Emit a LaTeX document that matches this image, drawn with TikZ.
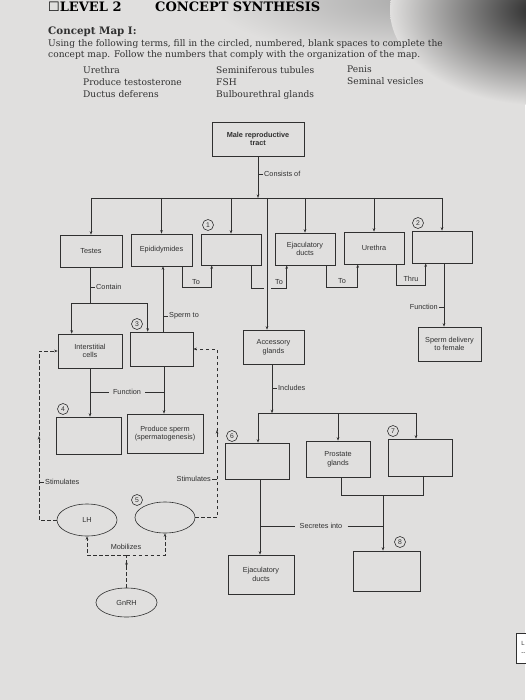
\documentclass[tikz,border=0pt]{standalone}
\usepackage{fontspec}
\setmainfont{DejaVu Serif}
\newfontfamily\diag{Liberation Sans}
\newfontfamily\symf{DejaVu Sans}
\usetikzlibrary{arrows.meta,shapes.geometric,calc}
\definecolor{paper}{RGB}{224,223,222}
\definecolor{ink}{RGB}{48,48,48}
\tikzset{
  box/.style={draw=ink,line width=0.6pt,align=center,font=\diag\fontsize{7.3}{8.6}\selectfont,inner sep=1pt},
  sz/.style 2 args={minimum width=#1pt,minimum height=#2pt},
  oval/.style={box,ellipse},
  lbl/.style={font=\diag\fontsize{7.3}{8.6}\selectfont,inner sep=1pt},
  num/.style={circle,draw=ink,line width=0.6pt,minimum size=11pt,inner sep=0pt,font=\diag\fontsize{6.8}{7}\selectfont},
  con/.style={draw=ink,line width=0.6pt},
  arr/.style={con,-{Stealth[length=3.6pt,width=2.6pt]}},
  dsh/.style={con,dash pattern=on 3.5pt off 2.5pt},
  body/.style={anchor=base west,inner sep=0pt,font=\fontsize{9.1}{10}\selectfont},
}
\begin{document}
\begin{tikzpicture}[x=1pt,y=-1pt,every node/.style={text=ink}]
\useasboundingbox (0,0) rectangle (525,700);
\fill[paper] (0,0) rectangle (525,700);
\shade[inner color=black!35, outer color=paper] (430,0) ellipse (220pt and 60pt);
\shade[inner color=black!85, outer color=paper] (540,10) ellipse (150pt and 95pt);

% ---------- header text ----------
\node[anchor=base west,inner sep=0pt,font=\bfseries\fontsize{13}{13}\selectfont,text=black] (head1) at (48,12) {{\symf\mdseries ☐}LEVEL 2};
\node[anchor=base west,inner sep=0pt,font=\bfseries\fontsize{13}{13}\selectfont,text=black] (head2) at (155,12) {CONCEPT SYNTHESIS};
\node[anchor=base west,inner sep=0pt,font=\bfseries\fontsize{10.3}{11}\selectfont] (cm) at (48,35) {Concept Map I:};
\node[body] (l1) at (48,47) {Using the following terms, fill in the circled, numbered, blank spaces to complete the};
\node[body] (l2) at (48,58) {concept map. Follow the numbers that comply with the organization of the map.};
\node[body] (t1) at (83,74) {Urethra};
\node[body] (t2) at (83,86) {Produce testosterone};
\node[body] (t3) at (83,98) {Ductus deferens};
\node[body] (t4) at (216,74) {Seminiferous tubules};
\node[body] (t5) at (216,86) {FSH};
\node[body] (t6) at (216,98) {Bulbourethral glands};
\node[body] (t7) at (347,73) {Penis};
\node[body] (t8) at (347,85) {Seminal vesicles};

% ---------- boxes ----------
\node[box,sz={92}{34},font=\diag\bfseries\fontsize{7.3}{8.4}\selectfont] (male) at (258,139) {Male reproductive\\tract};
\node[box,sz={62}{32}] (testes) at (91,251) {Testes};
\node[box,sz={61}{32}] (epid) at (161.5,250) {Epididymides};
\node[box,sz={60}{31}] (b1) at (231,249.5) {};
\node[box,sz={60}{32}] (ejac) at (305,249) {Ejaculatory\\ducts};
\node[box,sz={60}{32}] (ureth) at (374,248) {Urethra};
\node[box,sz={60}{32}] (b2) at (442,247) {};
\node[box,sz={63}{34}] (sperm) at (449.5,344) {Sperm delivery\\to female};
\node[box,sz={64}{34}] (inter) at (90,351) {Interstitial\\cells};
\node[box,sz={63}{34}] (b3) at (161.5,349) {};
\node[box,sz={65}{37}] (b4) at (88.5,435.5) {};
\node[box,sz={76}{39}] (prod) at (165,433.5) {Produce sperm\\(spermatogenesis)};
\node[box,sz={61}{34}] (access) at (273.5,347) {Accessory\\glands};
\node[box,sz={64}{36}] (b6) at (257,461) {};
\node[box,sz={64}{36}] (prost) at (338,459) {Prostate\\glands};
\node[box,sz={64}{37}] (b7) at (420,457.5) {};
\node[box,sz={66}{39}] (ejac2) at (261,574.5) {Ejaculatory\\ducts};
\node[box,sz={67}{40}] (b8) at (386.5,571) {};
\node[oval,sz={60}{32}] (LH) at (87,520) {LH};
\node[oval,sz={60}{31}] (e5) at (165,517.5) {};
\node[oval,sz={61}{29}] (gnrh) at (126.5,602.5) {GnRH};

% ---------- numbers ----------
\node[num] (c1) at (208,225) {1};
\node[num] (c2) at (418,223) {2};
\node[num] (c3) at (137,324) {3};
\node[num] (c4) at (63,409) {4};
\node[num] (c5) at (137,500) {5};
\node[num] (c6) at (232,436) {6};
\node[num] (c7) at (393,431) {7};
\node[num] (c8) at (400,542) {8};

% ---------- top tree ----------
\coordinate (busL) at (91,198);
\coordinate (busR) at (442,198);
\coordinate (spine) at (267,198);
\draw[arr] (male.south) -- (male.south |- busL);
\node[lbl,anchor=west] (lcons) at (263,174) {Consists of};
\draw[con] (male.south |- lcons.west) -- (lcons.west);
\draw[con] (busL) -- (busR);
\draw[arr] (testes |- busL) -- (testes.north);
\draw[arr] (epid |- busL) -- (epid.north);
\draw[arr] (b1 |- busL) -- (b1.north);
\draw[arr] (ejac |- busL) -- (ejac.north);
\draw[arr] (ureth |- busL) -- (ureth.north);
\draw[arr] (b2 |- busL) -- (b2.north);

% To / Thru connectors
\draw[arr] ([xshift=-10]epid.south east) -- ++(0,21) -| ([xshift=11]b1.south west);
\node[lbl,anchor=base] (to1) at (196,284) {To};
\draw[arr] ([xshift=-10]b1.south east) -- ++(0,23) -| ([xshift=12]ejac.south west);
\node[lbl,anchor=base] (to2) at (279,284) {To};
\fill[paper] (263.5,285) rectangle (270.5,291);
\draw[arr] (spine) -- (spine |- access.north);
\draw[arr] ([xshift=-9]ejac.south east) -- ++(0,22) -| ([xshift=14]ureth.south west);
\node[lbl,anchor=base] (to3) at (342,283) {To};
\draw[arr] ([xshift=-8]ureth.south east) -- ++(0,21) -| ([xshift=14]b2.south west);
\node[lbl,anchor=base] (thru) at (411,281) {Thru};

% b2 -> sperm
\draw[arr] ([xshift=2]b2.south) -- ([xshift=2]b2.south |- sperm.north);
\node[lbl,anchor=east] (lfun1) at (439,307) {Function};
\draw[con] (lfun1.east) -- ([xshift=2]b2.south |- lfun1.east);

% testes branch
\draw[con] ([xshift=-1]testes.south) -- ++(0,36) coordinate (tsplit);
\draw[arr] (tsplit) -| ([xshift=14]inter.north west);
\draw[arr] (tsplit) -| ([xshift=18]b3.north west);
\node[lbl,anchor=west] (lcont) at (95,287) {Contain};
\draw[con] (tsplit |- lcont.west) -- (lcont.west);
\draw[arr] ([xshift=1.5]b3.north) -- ([xshift=1.5]b3.north |- epid.south);
\node[lbl,anchor=west] (lsp) at (168,316) {Sperm to};
\draw[con] ([xshift=1.5]b3.north |- lsp.west) -- (lsp.west);
\draw[arr] (inter.south) -- (inter.south |- b4.north);
\draw[arr] ([xshift=2.5]b3.south) -- ([xshift=2.5]b3.south |- prod.north);
\node[lbl,inner sep=4pt] (lfun2) at (127,392) {Function};
\draw[con] (inter.south |- lfun2.west) -- (lfun2.west);
\draw[con] (lfun2.east) -- ([xshift=2.5]b3.south |- lfun2.east);

% dashed hormone loops
\coordinate (dl) at (39,351);
\draw[dsh,-{Stealth[length=3.6pt,width=2.6pt]}] (LH.west) -| (dl) -- (inter.west);
\draw[arr] (39,443) -- (39,436);
\node[lbl,anchor=west] (lst1) at (44,482) {Stimulates};
\draw[con] (dl |- lst1.west) -- (lst1.west);
\coordinate (dr) at (217,349);
\draw[dsh,-{Stealth[length=3.6pt,width=2.6pt]}] (e5.east) -| (dr) -- (b3.east);
\draw[arr] (217,437) -- (217,430);
\node[lbl,anchor=east] (lst2) at (212,479) {Stimulates};
\draw[con] (lst2.east) -- (dr |- lst2.east);
\coordinate (mobj) at (126.5,555);
\draw[dsh] (gnrh.north) -- (mobj);
\draw[arr] (126.5,568) -- (126.5,561);
\draw[dsh,-{Stealth[length=3.6pt,width=2.6pt]}] (mobj) -| (LH.south);
\draw[dsh,-{Stealth[length=3.6pt,width=2.6pt]}] (mobj) -| (e5.south);
\node[lbl] (lmob) at (126,547) {Mobilizes};

% accessory glands
\draw[arr] ([xshift=-1.5]access.south) -- ++(0,49) coordinate (abus);
\node[lbl,anchor=west] (linc) at (277,388) {Includes};
\draw[con] ([xshift=-1.5]access.south |- linc.west) -- (linc.west);
\coordinate (abL) at (258,413);
\coordinate (abR) at (416,413);
\draw[con] (abL) -- (abR);
\draw[arr] (abL) -- (abL |- b6.north);
\draw[arr] (prost |- abL) -- (prost.north);
\draw[arr] (abR) -- (abR |- b7.north);
\draw[con] ([xshift=3]prost.south) -- ++(0,18) -| ([xshift=3]b7.south);
\coordinate (sj) at (383,495);
\draw[arr] (sj) -- (sj |- b8.north);
\draw[arr] ([xshift=3]b6.south) -- ([xshift=3]b6.south |- ejac2.north);
\node[lbl,inner sep=5pt] (lsec) at (321,526) {Secretes into};
\draw[con] ([xshift=3]b6.south |- lsec.west) -- (lsec.west);
\draw[con] (lsec.east) -- (sj |- lsec.east);

% edge of next page
\node[draw=ink,fill=white,line width=0.6pt,anchor=north west,minimum width=14pt,minimum height=30pt,inner sep=1pt,font=\diag\fontsize{6}{7}\selectfont,align=left] (edge) at (516,633) {L\\[2pt]--};
\end{tikzpicture}
\end{document}
